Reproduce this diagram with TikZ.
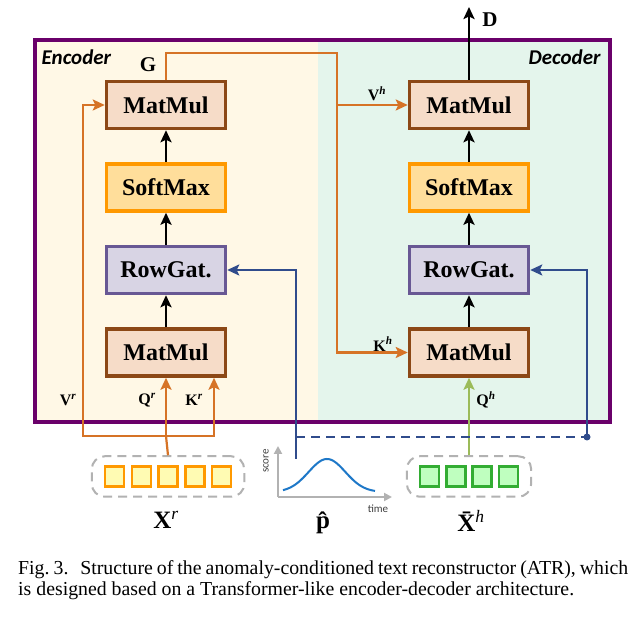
\documentclass[tikz,border=0pt]{standalone}
\usepackage{fontspec}
\setmainfont{Liberation Serif}
\setsansfont{Carlito}
\usetikzlibrary{arrows.meta,positioning,fit,calc}

\definecolor{framepurple}{RGB}{106,0,106}
\definecolor{encbg}{RGB}{255,248,230}
\definecolor{decbg}{RGB}{228,245,236}
\definecolor{mmfill}{RGB}{246,220,200}
\definecolor{mmdraw}{RGB}{140,72,22}
\definecolor{smfill}{RGB}{255,222,155}
\definecolor{smdraw}{RGB}{255,153,0}
\definecolor{rgfill}{RGB}{216,212,228}
\definecolor{rgdraw}{RGB}{104,88,148}
\definecolor{qkorange}{RGB}{214,115,38}
\definecolor{scoreblue}{RGB}{48,76,140}
\definecolor{qgreen}{RGB}{155,187,89}
\definecolor{curveblue}{RGB}{30,120,200}

\begin{document}
\begin{tikzpicture}[
  x=1pt,y=1pt,
  >={Stealth[length=12pt,width=11pt,inset=2.5pt]}, % arrow tip used everywhere
  node distance=32pt, % space between the stacked boxes
  box/.style={draw,line width=3.5pt,minimum width=119pt,minimum height=47pt,font=\fontsize{24}{24}\selectfont\bfseries},
  matmul/.style={box,draw=mmdraw,fill=mmfill},
  softmax/.style={box,draw=smdraw,fill=smfill},
  rowgat/.style={box,draw=rgdraw,fill=rgfill},
  flow/.style={->,line width=2.4pt,black}, % black arrows inside the blocks
  oline/.style={line width=2.2pt,qkorange}, % query/key/value lines
  bline/.style={line width=2.2pt,scoreblue}, % anomaly score lines
  tag/.style={font=\fontsize{16}{16}\selectfont\bfseries}, % small labels on the lines
  biglabel/.style={font=\fontsize{25}{25}\selectfont\bfseries},
  title/.style={font=\fontsize{21}{21}\selectfont\sffamily\bfseries\itshape},
  rcell/.style={draw=smdraw,fill=yellow!30,line width=2.5pt,minimum width=19pt,minimum height=20pt,inner sep=0pt},
  hcell/.style={draw=green!60!black!80,fill=green!25,line width=2.5pt,minimum width=19pt,minimum height=20pt,inner sep=0pt},
  group/.style={draw=gray!60,dashed,dash pattern=on 9pt off 6pt,line width=2pt,rounded corners=13pt,inner xsep=12pt,inner ysep=9pt}
  ]

  \useasboundingbox (0,0) rectangle (636,628);
  \fill[white] (0,0) rectangle (636,628);

  % encoder / decoder areas
  \fill[encbg] (35,206) rectangle (318,588);
  \fill[decbg] (318,206) rectangle (610,588);
  \draw[framepurple,line width=4pt] (35,206) rectangle (610,588);
  \node[title,anchor=west] (enctitle) at (38,571) {Encoder};
  \node[title,anchor=east] (dectitle) at (604,571) {Decoder};

  % encoder column
  \node[matmul] (encqk) at (166,275.5) {MatMul};
  \node[rowgat] (encgate) [above=of encqk] {RowGat.};
  \node[softmax] (encsoft) [above=of encgate] {SoftMax};
  \node[matmul] (encout) [above=of encsoft] {MatMul};

  % decoder column
  \node[matmul] (decqk) at (469,275.5) {MatMul};
  \node[rowgat] (decgate) [above=of decqk] {RowGat.};
  \node[softmax] (decsoft) [above=of decgate] {SoftMax};
  \node[matmul] (decout) [above=of decsoft] {MatMul};

  \draw[flow] (encqk) -- (encgate);
  \draw[flow] (encgate) -- (encsoft);
  \draw[flow] (encsoft) -- (encout);
  \draw[flow] (decqk) -- (decgate);
  \draw[flow] (decgate) -- (decsoft);
  \draw[flow] (decsoft) -- (decout);
  \draw[flow] (decout.north) -- (469,621) coordinate (dout);
  \node[font=\fontsize{21}{21}\selectfont\bfseries] (dlabel) at (490,608) {D};

  % input tokens
  \foreach \i in {1,...,5}
    \node[rcell] (xr\i) at ({168+(\i-3)*26.75},151.5) {};
  \node[group,fit=(xr1)(xr5)] (xrgroup) {};
  \node[biglabel] (xrlabel) at (166,108) {X\textsuperscript{\textit{\mdseries r}}};

  \foreach \i in {1,...,4}
    \node[hcell] (xh\i) at ({469+(\i-2.5)*26.3},151.5) {};
  \node[group,fit=(xh1)(xh4)] (xhgroup) {};
  \node[biglabel] (xhlabel) at (471,107) {\={X}\textsuperscript{\textit{\mdseries h}}};

  % anomaly score curve
  \coordinate (porigin) at (278,131);
  \draw[->,gray!60,line width=2pt,>={Triangle[length=8pt,width=8pt]}] (porigin) -- (278,182);
  \draw[->,gray!60,line width=2pt,>={Triangle[length=8pt,width=8pt]}] (porigin) -- (392,131);
  \node[rotate=90,font=\fontsize{11}{11}\selectfont\sffamily,text=black!75] (scorelabel) at (266,167) {score};
  \node[font=\fontsize{11}{11}\selectfont\sffamily,text=black!75] (timelabel) at (378,119) {time};
  \draw[curveblue,line width=2pt] plot[domain=283:375,samples=60] (\x,{136+33*exp(-((\x-327)/26)*((\x-327)/26))});
  \node[biglabel] (plabel) at (323,105) {\^{p}};

  % queries, keys and values of the encoder
  \coordinate (xrsplit) at (166,192);
  \coordinate (vrturn) at (83,192);
  \draw[oline] (xrgroup.north) -- (xrsplit);
  \draw[oline,->] (xrsplit) -- (encqk.south);
  \draw[oline,->] (xrsplit) -| ([xshift=48pt]encqk.south);
  \draw[oline,->] (xrsplit) -- (vrturn) |- (encout.west);
  \node[tag] (vr) at (68,228) {V\textsuperscript{\textit{r}}};
  \node[tag] (qr) at (147,228) {Q\textsuperscript{\textit{r}}};
  \node[tag] (kr) at (194,228) {K\textsuperscript{\textit{r}}};

  % G to the decoder
  \coordinate (gturn) at (337,575);
  \node[font=\fontsize{21}{21}\selectfont\bfseries] (glabel) at (148,563) {G};
  \draw[oline,->] (encout.north) |- (gturn) |- (decqk.west);
  \draw[oline,->] (gturn) |- (decout.west);
  \node[tag] (vh) at (377,534) {V\textsuperscript{\textit{h}}};
  \node[tag] (kh) at (383,284) {K\textsuperscript{\textit{h}}};

  % queries of the decoder
  \draw[->,line width=2.2pt,qgreen] (xhgroup.north) -- (decqk.south);
  \node[tag] (qh) at (486,228) {Q\textsuperscript{\textit{h}}};

  % score to both row gates
  \coordinate (psrc) at (296,169);
  \coordinate (pfork) at (296,191);
  \coordinate (pdot) at (587,191);
  \draw[bline,->] (psrc) |- (encgate.east);
  \draw[bline,dashed,dash pattern=on 9pt off 6pt] (pfork) -- (pdot);
  \fill[scoreblue] (pdot) circle (3.5pt);
  \draw[bline,->] (pdot) |- (decgate.east);

  % caption
  \node[anchor=north west,text width=610pt,align=justify,inner sep=0pt,font=\fontsize{19.8}{21}\selectfont] (caption) at (18,68)
    {Fig.~3.\hspace{0.6em}Structure of the anomaly-conditioned text reconstructor (ATR), which\linebreak is designed based on a Transformer-like encoder-decoder architecture.};
\end{tikzpicture}
\end{document}
